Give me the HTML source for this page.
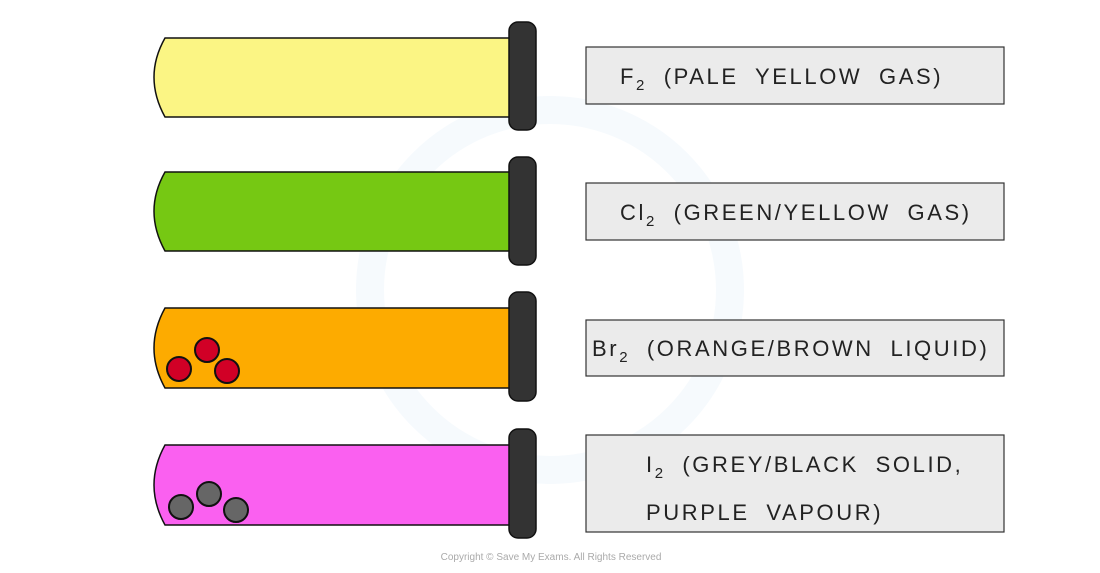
<!DOCTYPE html>
<html><head><style>body{margin:0;background:#fff;}svg{display:block}</style></head>
<body>
<svg width="1100" height="573" viewBox="0 0 1100 573" xmlns="http://www.w3.org/2000/svg">
<circle cx="550" cy="290" r="180" fill="none" stroke="#f6fafd" stroke-width="28"/>
<g stroke="#111" stroke-width="1.5">
<path d="M165,38 L512,38 L512,117 L165,117 Q143,77 165,38 Z" fill="#fbf584"/>
<path d="M165,172 L512,172 L512,251 L165,251 Q143,211 165,172 Z" fill="#76c813"/>
<path d="M165,308 L512,308 L512,388 L165,388 Q143,348 165,308 Z" fill="#fdab00"/>
<path d="M165,445 L512,445 L512,525 L165,525 Q143,485 165,445 Z" fill="#fa60f0"/>
<rect x="509" y="22" width="27" height="108" rx="9" fill="#333"/>
<rect x="509" y="157" width="27" height="108" rx="9" fill="#333"/>
<rect x="509" y="292" width="27" height="109" rx="9" fill="#333"/>
<rect x="509" y="429" width="27" height="109" rx="9" fill="#333"/>
<g fill="#d10026" stroke-width="2"><circle cx="179" cy="369" r="12"/><circle cx="207" cy="350" r="12"/><circle cx="227" cy="371" r="12"/></g>
<g fill="#666" stroke-width="2"><circle cx="181" cy="507" r="12"/><circle cx="209" cy="494" r="12"/><circle cx="236" cy="510" r="12"/></g>
</g>
<g fill="#ebebeb" stroke="#333" stroke-width="1.2">
<rect x="586" y="47" width="418" height="57"/>
<rect x="586" y="183" width="418" height="57"/>
<rect x="586" y="320" width="418" height="56"/>
<rect x="586" y="435" width="418" height="97"/>
</g>
<g font-family="Liberation Sans, sans-serif" font-size="22" fill="#222" letter-spacing="2.6" word-spacing="8">
<text x="620" y="84">F<tspan font-size="15" dy="6">2</tspan><tspan dy="-6"> (PALE YELLOW GAS)</tspan></text>
<text x="620" y="220">Cl<tspan font-size="15" dy="6">2</tspan><tspan dy="-6"> (GREEN/YELLOW GAS)</tspan></text>
<text x="592" y="356">Br<tspan font-size="15" dy="6">2</tspan><tspan dy="-6"> (ORANGE/BROWN LIQUID)</tspan></text>
<text x="646" y="472">I<tspan font-size="15" dy="6">2</tspan><tspan dy="-6"> (GREY/BLACK SOLID,</tspan></text>
<text x="646" y="520">PURPLE VAPOUR)</text>
</g>
<text x="551" y="560" text-anchor="middle" font-family="Liberation Sans, sans-serif" font-size="10" fill="#aaa">Copyright © Save My Exams. All Rights Reserved</text>
</svg>
</body></html>
